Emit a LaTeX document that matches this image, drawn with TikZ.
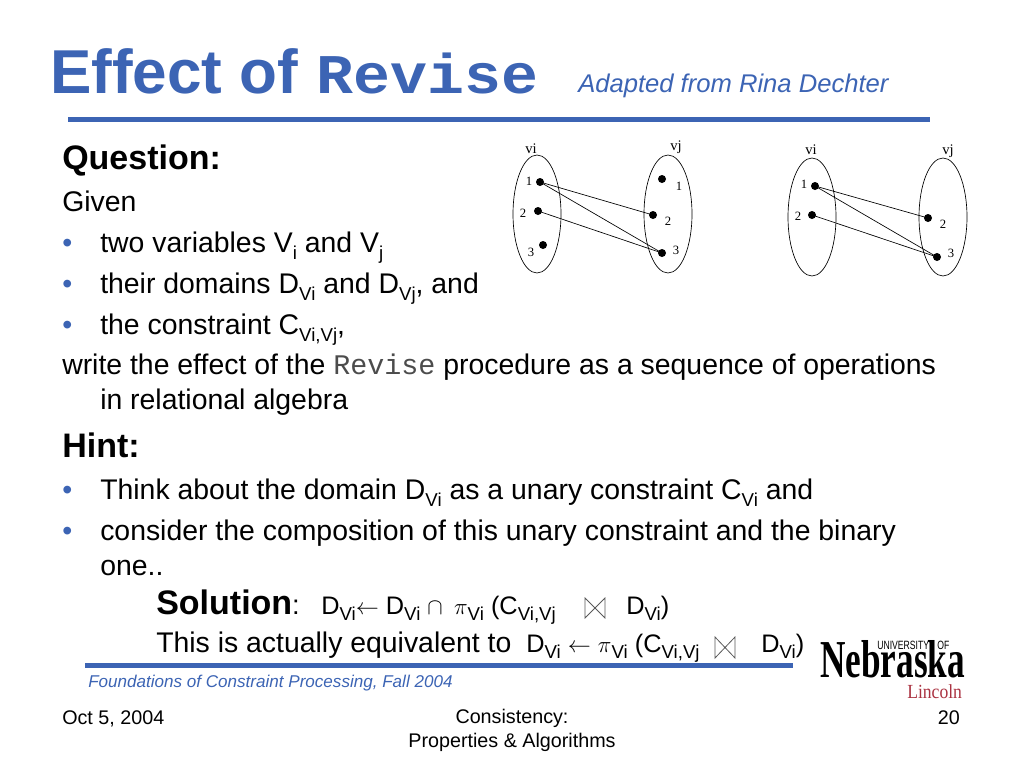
\documentclass[tikz,border=0pt]{standalone}
\usepackage{amsmath}
\usepackage{amssymb}
\usepackage{fontspec}
\usetikzlibrary{shapes.geometric}
\setmainfont{Liberation Sans}
\setmonofont{Liberation Mono}
\newfontfamily\labelfont{Liberation Serif}
\definecolor{slideblue}{RGB}{60,100,180}
\definecolor{logored}{RGB}{170,50,65}
\newcommand{\low}[1]{\raisebox{-.26em}{\fontsize{14}{14}\selectfont #1}}
\tikzset{
  txt/.style={anchor=base west,inner sep=0pt,font=\fontsize{21.3}{24}\selectfont},
  head/.style={txt,font=\fontsize{25.5}{30}\selectfont\bfseries},
  foot/.style={inner sep=0pt,anchor=base,font=\fontsize{14.8}{18}\selectfont},
  formula/.style={txt,font=\fontsize{19}{24}\selectfont},
  bulletmark/.style={txt,text=slideblue},
  rulebar/.style={slideblue,line width=3.75pt},
  setring/.style={draw,ellipse,inner sep=0pt,minimum width=36pt,minimum height=88.5pt,line width=0.5pt},
  val/.style={circle,fill=black,inner sep=0pt,minimum size=6pt},
  tag/.style={inner sep=0pt,font=\labelfont\fontsize{9.5}{10}\selectfont},
  settag/.style={inner sep=0pt,font=\labelfont\fontsize{11}{12}\selectfont},
  link/.style={line width=0.5pt},
  joinmark/.style={line width=0.6pt,black!65}
}
\begin{document}
\begin{tikzpicture}[x=0.75pt,y=0.75pt,yscale=-1]
\useasboundingbox (0,0) rectangle (1024,768);

% Title
\draw (50,93) node (title) [txt,text=slideblue,font=\fontsize{46.5}{50}\selectfont\bfseries] {Effect of};
\draw (316,93) node (titlecode) [txt,text=slideblue,font=\fontsize{42}{50}\selectfont\ttfamily\bfseries] {\scalebox{1.1}[1]{Revise}};
\draw (578,92) node (credit) [txt,text=slideblue,font=\fontsize{19.2}{22}\selectfont\itshape] {Adapted from Rina Dechter};
\coordinate (topa) at (68,119);
\coordinate (topb) at (930,119);
\draw [rulebar] (topa) -- (topb);

% Question
\draw (62,169) node (question) [head] {Question:};
\draw (62,211) node (given) [txt] {Given};
\draw (62,252) node (ba) [bulletmark] {•};
\draw (100,252) node (two) [txt] {two variables V\low{i} and V\low{j}};
\draw (62,293) node (bb) [bulletmark] {•};
\draw (100,293) node (domains) [txt] {their domains D\low{Vi} and D\low{Vj}, and};
\draw (62,334) node (bc) [bulletmark] {•};
\draw (100,334) node (constraint) [txt] {the constraint C\low{Vi,Vj},};
\draw (62,374) node (write) [txt] {write the effect of the {\ttfamily\color{black!70}Revise} procedure as a sequence of operations};
\draw (100,409) node (algebra) [txt] {in relational algebra};

% Hint
\draw (62,457) node (hint) [head] {Hint:};
\draw (62,499) node (bd) [bulletmark] {•};
\draw (100,499) node (think) [txt] {Think about the domain D\low{Vi} as a unary constraint C\low{Vi} and};
\draw (62,540) node (be) [bulletmark] {•};
\draw (100,540) node (consider) [txt] {consider the composition of this unary constraint and the binary};
\draw (100,575) node (one) [txt] {one..};

% Solution
\draw (156,614) node (solution) [head] {Solution\textnormal{\fontsize{20.5}{24}\selectfont :}};
\draw (321,614) node (solf) [formula] {D\low{Vi}$\leftarrow$ D\low{Vi} $\cap$\, $\pi$\low{Vi} (C\low{Vi,Vj}};
\draw (626,614) node (solg) [formula] {D\low{Vi})};
\draw [joinmark] (585,598) -- (585,618) -- (605,598) -- (605,618) -- cycle;
\draw (156,652) node (same) [txt] {This is actually equivalent to};
\draw (526,652) node (samef) [formula] {D\low{Vi} $\leftarrow$ $\pi$\low{Vi} (C\low{Vi,Vj}};
\draw (761,652) node (sameg) [formula] {D\low{Vi})};
\draw [joinmark] (715,637) -- (715,658) -- (735,637) -- (735,658) -- cycle;

% Left sets
\draw (537,214) node (vi) [setring] {};
\draw (668,214) node (vj) [setring] {};
\draw (531,149) node (vilabel) [settag] {vi};
\draw (676,147) node (vjlabel) [settag] {vj};
\draw (540,182) node (ia) [val] {};
\draw (538,211) node (ib) [val] {};
\draw (543,245) node (ic) [val] {};
\draw (662,179) node (ja) [val] {};
\draw (653,215) node (jb) [val] {};
\draw (662,253) node (jc) [val] {};
\draw (529,181) node (tia) [tag] {1};
\draw (523,213) node (tib) [tag] {2};
\draw (531,252) node (tic) [tag] {3};
\draw (679,186) node (tja) [tag] {1};
\draw (668,221) node (tjb) [tag] {2};
\draw (676,250) node (tjc) [tag] {3};
\draw [link] (ia.center) -- (jb.center);
\draw [link] (ia.center) -- (jc.center);
\draw [link] (ib.center) -- (jc.center);

% Right sets
\draw (812,217) node (wi) [setring] {};
\draw (943,217) node (wj) [setring] {};
\draw (811,150) node (wilabel) [settag] {vi};
\draw (948,151) node (wjlabel) [settag] {vj};
\draw (815,186) node (ka) [val] {};
\draw (812,215) node (kb) [val] {};
\draw (928,218) node (mb) [val] {};
\draw (937,257) node (mc) [val] {};
\draw (804,184) node (tka) [tag] {1};
\draw (798,216) node (tkb) [tag] {2};
\draw (943,224) node (tmb) [tag] {2};
\draw (951,253) node (tmc) [tag] {3};
\draw [link] (ka.center) -- (mb.center);
\draw [link] (ka.center) -- (mc.center);
\draw [link] (kb.center) -- (mc.center);

% Footer
\coordinate (bota) at (85,665);
\coordinate (botb) at (793,665);
\draw [rulebar] (bota) -- (botb);
\draw (88,687) node (course) [txt,text=slideblue,font=\fontsize{12.8}{16}\selectfont\itshape] {Foundations of Constraint Processing, Fall 2004};
\draw (62,724) node (date) [txt,font=\fontsize{14.8}{18}\selectfont] {Oct 5, 2004};
\draw (512,723) node (topic) [foot] {Consistency:};
\draw (512,747) node (topicb) [foot] {Properties \& Algorithms};
\draw (960,724) node (page) [foot,anchor=base east] {20};

% Logo
\draw (820,677) node (neb) [txt,font=\labelfont\bfseries\fontsize{40}{42}\selectfont] {\scalebox{.66}[1]{Nebraska}};
\draw (877,649) node (univ) [txt,font=\fontsize{9}{10}\selectfont] {\scalebox{.72}[1]{UNIVERSITY}};
\draw (937,649) node (of) [txt,font=\fontsize{9}{10}\selectfont] {\scalebox{.72}[1]{OF}};
\draw (907,698) node (lincoln) [txt,text=logored,font=\labelfont\fontsize{15}{16}\selectfont] {\scalebox{.88}[1]{Lincoln}};
\end{tikzpicture}
\end{document}
